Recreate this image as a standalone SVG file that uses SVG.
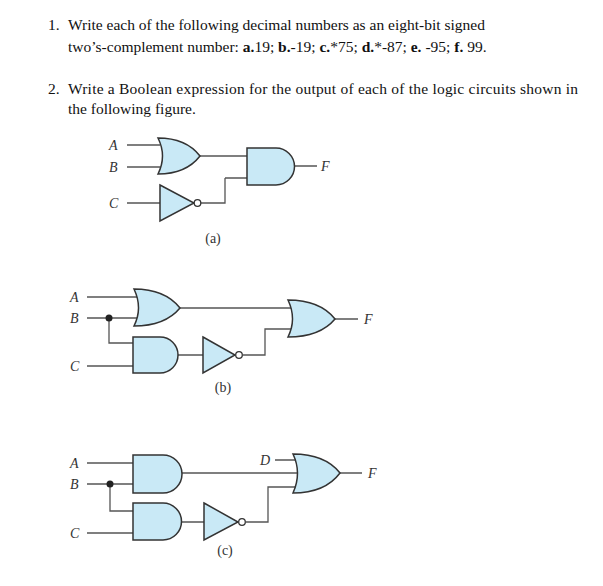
<svg xmlns="http://www.w3.org/2000/svg" width="603" height="586" viewBox="0 0 603 586">
<style>
.t{font-family:'Liberation Serif','Times New Roman',Times,serif;font-size:15.5px;fill:#111}
.l{font-family:'Liberation Serif','Times New Roman',Times,serif;font-size:14px;font-style:italic;fill:#333}
.c{font-family:'Liberation Serif','Times New Roman',Times,serif;font-size:14px;fill:#333}
.g{fill:#c9e9f6;stroke:#333;stroke-width:1.5}
.w{fill:none;stroke:#555;stroke-width:1.3}
</style>
<rect width="603" height="586" fill="#fff"/>
<text class="t" x="48" y="30">1.</text>
<text class="t" x="68" y="30">Write each of the following decimal numbers as an eight-bit signed</text>
<text class="t" x="68" y="52">two’s-complement number: <tspan font-weight="bold">a.</tspan>19; <tspan font-weight="bold">b.</tspan>-19; <tspan font-weight="bold">c.</tspan>*75; <tspan font-weight="bold">d.</tspan>*-87; <tspan font-weight="bold">e.</tspan> -95; <tspan font-weight="bold">f.</tspan> 99.</text>
<text class="t" x="48" y="94">2.</text>
<text class="t" x="68" y="94" textLength="510">Write a Boolean expression for the output of each of the logic circuits shown in</text>
<text class="t" x="68" y="114">the following figure.</text>

<g id="connectors">
<path class="w" d="M127,145H160 M127,167H160 M200,156H250 M225,178H250 M201,203H225V178 M127,203H160 M280,166H317"/>
<path class="w" d="M87,297H137 M87,318H137 M109,318V343H133 M87,366H133 M178,355H203 M180,308H293 M243,355H265V329H293 M335,319H358"/>
<path class="w" d="M87,463H133 M87,484H133 M110,484V511H133 M87,533H133 M182,473H297 M181,522H204 M246,522H268V487H297 M275,460H297 M340,473H362"/>
<circle cx="109" cy="318" r="3.5" fill="#222"/>
<circle cx="110" cy="484" r="3.5" fill="#222"/>
</g>

<g id="a">
<path class="g" d="M158,138Q186,138 200,156Q186,174 158,174Q167,156 158,138Z"/>
<path class="g" d="M247,148H276A18.5,18.5 0 0 1 276,185H247Z"/>
<path class="g" d="M160,185L194,203L160,221Z"/>
<circle cx="197.5" cy="203" r="3.3" fill="#fff" stroke="#333" stroke-width="1.3"/>
<text class="l" x="109" y="150">A</text><text class="l" x="109" y="172">B</text><text class="l" x="109" y="208">C</text><text class="l" x="321" y="171">F</text>
<text class="c" x="213" y="243" text-anchor="middle">(a)</text>
</g>
<g id="b">
<path class="g" d="M134,289Q165,289 180,308Q165,326 134,326Q143,308 134,289Z"/>
<path class="g" d="M288,300Q320,300 335,319Q320,337 288,337Q297,319 288,300Z"/>
<path class="g" d="M133,337H160A18,18 0 0 1 160,373H133Z"/>
<path class="g" d="M203,337L235,355L203,373Z"/>
<circle cx="239" cy="355" r="3.3" fill="#fff" stroke="#333" stroke-width="1.3"/>
<text class="l" x="70" y="302">A</text><text class="l" x="70" y="323">B</text><text class="l" x="70" y="371">C</text><text class="l" x="364" y="324">F</text>
<text class="c" x="223" y="392" text-anchor="middle">(b)</text>
</g>
<g id="c">
<path class="g" d="M133,455H163A19,19 0 0 1 163,493H133Z"/>
<path class="g" d="M293,454Q325,454 340,473Q325,493 293,493Q302,473 293,454Z"/>
<path class="g" d="M133,503H163A18.5,18.5 0 0 1 163,540H133Z"/>
<path class="g" d="M204,503L238,522L204,540Z"/>
<circle cx="242" cy="522" r="3.3" fill="#fff" stroke="#333" stroke-width="1.3"/>
<text class="l" x="70" y="468">A</text><text class="l" x="70" y="489">B</text><text class="l" x="70" y="538">C</text><text class="l" x="260" y="465">D</text><text class="l" x="368" y="478">F</text>
<text class="c" x="225" y="555" text-anchor="middle">(c)</text>
</g>
</svg>
